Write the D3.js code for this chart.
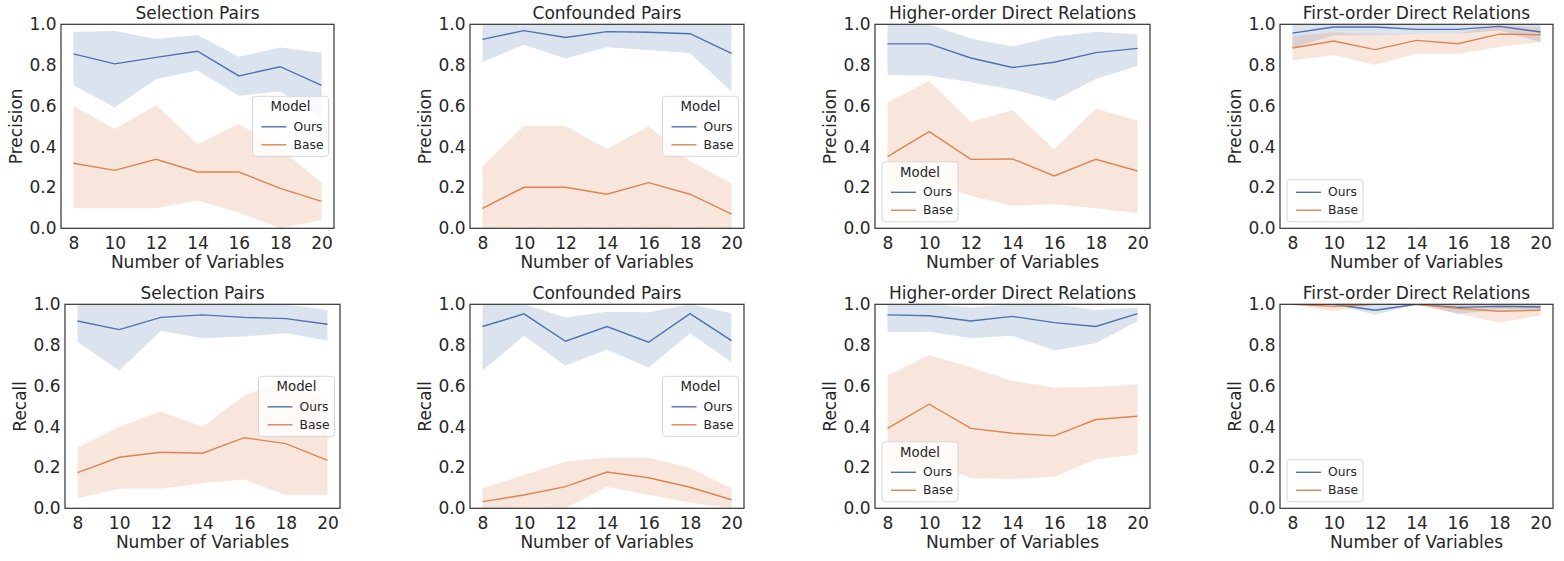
<!DOCTYPE html>
<html lang="en">
<head>
    <meta charset="utf-8" />
    <title>Precision / Recall</title>
    <script src="https://d3js.org/d3.v7.min.js"></script>
    <style>
        body { margin: 0; background: #fff; }
        svg { display: block; font-family: "DejaVu Sans", sans-serif; }
    </style>
</head>
<body>
    <svg id="chart"></svg>
    <script>
        let width = 1564,
            height = 561;

        // x values and tick labels
        var numVars = [8, 10, 12, 14, 16, 18, 20];
        var yTicks = [0, 0.2, 0.4, 0.6, 0.8, 1.0];

        // Precision - Selection Pairs
        var pSelOurs = [0.855, 0.806, 0.838, 0.868, 0.747, 0.792, 0.701];
        var pSelOursLo = [0.701, 0.592, 0.732, 0.773, 0.650, 0.670, 0.545];
        var pSelOursHi = [0.964, 0.967, 0.928, 0.948, 0.841, 0.886, 0.861];
        var pSelBase = [0.319, 0.284, 0.338, 0.276, 0.276, 0.196, 0.132];
        var pSelBaseLo = [0.098, 0.098, 0.098, 0.136, 0.078, 0.0, 0.041];
        var pSelBaseHi = [0.600, 0.487, 0.605, 0.413, 0.511, 0.39, 0.224];

        // Precision - Confounded Pairs
        var pConfOurs = [0.926, 0.969, 0.935, 0.964, 0.961, 0.954, 0.858];
        var pConfOursLo = [0.815, 0.900, 0.832, 0.887, 0.874, 0.858, 0.670];
        var pConfOursHi = [1, 1, 1, 1, 1, 1, 1];
        var pConfBase = [0.098, 0.201, 0.201, 0.167, 0.224, 0.167, 0.070];
        var pConfBaseLo = [0, 0, 0, 0, 0, 0, 0];
        var pConfBaseHi = [0.302, 0.502, 0.502, 0.389, 0.502, 0.33, 0.219];

        // Precision - Higher-order Direct Relations
        var pHighOurs = [0.904, 0.904, 0.835, 0.788, 0.814, 0.861, 0.882];
        var pHighOursLo = [0.753, 0.748, 0.716, 0.681, 0.626, 0.732, 0.797];
        var pHighOursHi = [1, 1, 0.931, 0.891, 0.940, 0.964, 0.951];
        var pHighBase = [0.351, 0.474, 0.338, 0.340, 0.257, 0.338, 0.281];
        var pHighBaseLo = [0.12, 0.23, 0.158, 0.111, 0.118, 0.098, 0.074];
        var pHighBaseHi = [0.618, 0.722, 0.521, 0.580, 0.387, 0.587, 0.528];

        // Precision - First-order Direct Relations
        var pFirstOurs = [0.957, 0.987, 0.987, 0.975, 0.975, 0.990, 0.962];
        var pFirstOursLo = [0.884, 0.946, 0.946, 0.954, 0.954, 0.97, 0.913];
        var pFirstOursHi = [1, 1, 1, 1, 1, 1, 1];
        var pFirstBase = [0.884, 0.918, 0.876, 0.921, 0.905, 0.952, 0.949];
        var pFirstBaseLo = [0.823, 0.848, 0.802, 0.856, 0.856, 0.889, 0.913];
        var pFirstBaseHi = [0.94, 0.96, 0.95, 0.955, 0.955, 0.998, 0.985];

        // Recall - Selection Pairs
        var rSelOurs = [0.918, 0.876, 0.936, 0.948, 0.936, 0.930, 0.902];
        var rSelOursLo = [0.817, 0.675, 0.869, 0.833, 0.842, 0.858, 0.822];
        var rSelOursHi = [1, 1, 1, 1, 1, 1, 0.972];
        var rSelBase = [0.175, 0.250, 0.275, 0.270, 0.346, 0.317, 0.235];
        var rSelBaseLo = [0.049, 0.096, 0.096, 0.123, 0.141, 0.065, 0.065];
        var rSelBaseHi = [0.297, 0.400, 0.474, 0.400, 0.552, 0.63, 0.52];

        // Recall - Confounded Pairs
        var rConfOurs = [0.891, 0.953, 0.819, 0.891, 0.814, 0.954, 0.822];
        var rConfOursLo = [0.675, 0.846, 0.699, 0.779, 0.690, 0.858, 0.716];
        var rConfOursHi = [1, 1, 0.935, 0.964, 0.961, 1, 0.956];
        var rConfBase = [0.033, 0.065, 0.106, 0.178, 0.150, 0.103, 0.042];
        var rConfBaseLo = [0, 0, 0, 0.106, 0.065, 0.028, 0];
        var rConfBaseHi = [0.098, 0.163, 0.229, 0.248, 0.248, 0.199, 0.098];

        // Recall - Higher-order Direct Relations
        var rHighOurs = [0.948, 0.944, 0.918, 0.941, 0.910, 0.891, 0.954];
        var rHighOursLo = [0.863, 0.866, 0.833, 0.846, 0.773, 0.809, 0.918];
        var rHighOursHi = [1, 1, 0.984, 1, 1, 0.972, 0.984];
        var rHighBase = [0.392, 0.510, 0.392, 0.368, 0.355, 0.435, 0.451];
        var rHighBaseLo = [0.13, 0.23, 0.147, 0.144, 0.155, 0.240, 0.265];
        var rHighBaseHi = [0.650, 0.752, 0.691, 0.624, 0.592, 0.595, 0.608];

        // Recall - First-order Direct Relations
        var rFirstOurs = [1, 1, 0.971, 1, 0.985, 0.99, 0.987];
        var rFirstOursLo = [1, 1, 0.949, 1, 0.952, 0.975, 0.97];
        var rFirstOursHi = [1, 1, 1, 1, 1, 1, 1];
        var rFirstBase = [1, 0.99, 1, 1, 0.98, 0.966, 0.971];
        var rFirstBaseLo = [1, 0.966, 1, 1, 0.955, 0.910, 0.946];
        var rFirstBaseHi = [1, 1, 1, 1, 1, 1, 1];

        var modelNames = ["Ours", "Base"];
        var modelColors = ["#4c72b0", "#dd8452"];
        var textColor = "#262626";

        // layout of the 2x4 grid (pixel boxes of each plot area)
        var rowTop = [24.3, 304.3];
        var plotH = 204;
        var colLeft = [[61, 470, 875, 1280], [65, 470, 875, 1280]];
        var colRight = [[334, 744, 1150, 1553], [340, 744, 1150, 1553]];

        let panels = [
            { title: "Selection Pairs", ylab: "Precision", row: 0, col: 0, leg: "right", legTitle: true,
              ours: [pSelOurs, pSelOursLo, pSelOursHi], base: [pSelBase, pSelBaseLo, pSelBaseHi] },
            { title: "Confounded Pairs", ylab: "Precision", row: 0, col: 1, leg: "right", legTitle: true,
              ours: [pConfOurs, pConfOursLo, pConfOursHi], base: [pConfBase, pConfBaseLo, pConfBaseHi] },
            { title: "Higher-order Direct Relations", ylab: "Precision", row: 0, col: 2, leg: "lowerleft", legTitle: true,
              ours: [pHighOurs, pHighOursLo, pHighOursHi], base: [pHighBase, pHighBaseLo, pHighBaseHi] },
            { title: "First-order Direct Relations", ylab: "Precision", row: 0, col: 3, leg: "lowerleft", legTitle: false,
              ours: [pFirstOurs, pFirstOursLo, pFirstOursHi], base: [pFirstBase, pFirstBaseLo, pFirstBaseHi] },
            { title: "Selection Pairs", ylab: "Recall", row: 1, col: 0, leg: "right", legTitle: true,
              ours: [rSelOurs, rSelOursLo, rSelOursHi], base: [rSelBase, rSelBaseLo, rSelBaseHi] },
            { title: "Confounded Pairs", ylab: "Recall", row: 1, col: 1, leg: "right", legTitle: true,
              ours: [rConfOurs, rConfOursLo, rConfOursHi], base: [rConfBase, rConfBaseLo, rConfBaseHi] },
            { title: "Higher-order Direct Relations", ylab: "Recall", row: 1, col: 2, leg: "lowerleft", legTitle: true,
              ours: [rHighOurs, rHighOursLo, rHighOursHi], base: [rHighBase, rHighBaseLo, rHighBaseHi] },
            { title: "First-order Direct Relations", ylab: "Recall", row: 1, col: 3, leg: "lowerleft", legTitle: false,
              ours: [rFirstOurs, rFirstOursLo, rFirstOursHi], base: [rFirstBase, rFirstBaseLo, rFirstBaseHi] }
        ];

        let svg = d3.select("#chart")
            .attr("width", width)
            .attr("height", height)
            .attr("viewBox", "0 0 " + width + " " + height);

        let defs = svg.append("defs");
        let fontPx = 17;

        panels.forEach((p, i) => {
            let x0 = colLeft[p.row][p.col],
                x1 = colRight[p.row][p.col],
                y0 = rowTop[p.row],
                y1 = y0 + plotH;

            // matplotlib-like 5% margins on x
            let xScale = d3.scaleLinear().domain([8 - 0.6, 20 + 0.6]).range([x0, x1]);
            let yScale = d3.scaleLinear().domain([0, 1]).range([y1, y0]);

            defs.append("clipPath").attr("id", "clip" + i)
                .append("rect")
                .attr("x", x0).attr("y", y0)
                .attr("width", x1 - x0).attr("height", y1 - y0);

            let g = svg.append("g").attr("class", "panel");
            let plot = g.append("g").attr("clip-path", "url(#clip" + i + ")");

            // confidence bands
            [p.ours, p.base].forEach((series, k) => {
                let pts = numVars.map((v, j) => ({ x: v, lo: series[1][j], hi: series[2][j] }));

                let area = d3.area()
                    .x((d) => xScale(d.x))
                    .y0((d) => yScale(d.lo))
                    .y1((d) => yScale(d.hi));

                plot.append("path")
                    .datum(pts)
                    .attr("d", area)
                    .attr("fill", modelColors[k])
                    .attr("fill-opacity", 0.2)
                    .attr("stroke", "none");
            });

            // mean lines
            [p.ours, p.base].forEach((series, k) => {
                let line = d3.line()
                    .x((d, j) => xScale(numVars[j]))
                    .y((d) => yScale(d));

                plot.append("path")
                    .datum(series[0])
                    .attr("d", line)
                    .attr("fill", "none")
                    .attr("stroke", modelColors[k])
                    .attr("stroke-width", 1.4);
            });

            // axes (no tick marks, like seaborn "white" style)
            let xAxis = g.append("g")
                .attr("transform", "translate(0," + y1 + ")")
                .call(d3.axisBottom(xScale).tickValues(numVars).tickSize(0).tickPadding(20.7 - 0.71 * fontPx));
            let yAxis = g.append("g")
                .attr("transform", "translate(" + x0 + ",0)")
                .call(d3.axisLeft(yScale).tickValues(yTicks).tickFormat(d3.format(".1f")).tickSize(0).tickPadding(4.5));

            [xAxis, yAxis].forEach((ax) => {
                ax.select(".domain").remove();
                ax.selectAll("text")
                    .attr("fill", textColor)
                    .style("font-size", fontPx + "px")
                    .style("font-family", "DejaVu Sans, sans-serif");
            });

            // spines
            g.append("rect")
                .attr("x", x0).attr("y", y0)
                .attr("width", x1 - x0).attr("height", y1 - y0)
                .attr("fill", "none")
                .attr("stroke", "#333")
                .attr("stroke-width", 1.2);

            // title and labels
            g.append("text")
                .attr("x", (x0 + x1) / 2)
                .attr("y", y0 - 5)
                .attr("text-anchor", "middle")
                .attr("fill", textColor)
                .style("font-size", fontPx + "px")
                .text(p.title);

            g.append("text")
                .attr("x", (x0 + x1) / 2)
                .attr("y", y1 + 40)
                .attr("text-anchor", "middle")
                .attr("fill", textColor)
                .style("font-size", fontPx + "px")
                .text("Number of Variables");

            g.append("text")
                .attr("transform", "translate(" + (x0 - 39) + "," + (y0 + y1) / 2 + ") rotate(-90)")
                .attr("text-anchor", "middle")
                .attr("fill", textColor)
                .style("font-size", fontPx + "px")
                .text(p.ylab);

            // legend
            let legW = 76,
                legH = p.legTitle ? 60 : 42,
                lx, ly;
            if (p.leg === "right") {
                lx = x1 - 5.5 - legW;
                ly = (y0 + y1) / 2 - legH / 2;
            } else {
                lx = x0 + 7;
                ly = y1 - 6.5 - legH;
            }
            let leg = g.append("g").attr("transform", "translate(" + lx + "," + ly + ")");
            leg.append("rect")
                .attr("width", legW).attr("height", legH)
                .attr("rx", 3)
                .attr("fill", "#fff")
                .attr("fill-opacity", 0.8)
                .attr("stroke", "#d6d6d6")
                .attr("stroke-width", 1);
            let off = 0;
            if (p.legTitle) {
                leg.append("text")
                    .attr("x", legW / 2)
                    .attr("y", 15)
                    .attr("text-anchor", "middle")
                    .attr("fill", textColor)
                    .style("font-size", "13.3px")
                    .text("Model");
                off = 18;
            }
            modelNames.forEach((name, k) => {
                let by = off + 16.5 + k * 18;
                leg.append("line")
                    .attr("x1", 9).attr("x2", 34)
                    .attr("y1", by - 4).attr("y2", by - 4)
                    .attr("stroke", modelColors[k])
                    .attr("stroke-width", 1.4);
                leg.append("text")
                    .attr("x", 41)
                    .attr("y", by)
                    .attr("fill", textColor)
                    .style("font-size", "12.3px")
                    .text(name);
            });
        });
    </script>
</body>
</html>
